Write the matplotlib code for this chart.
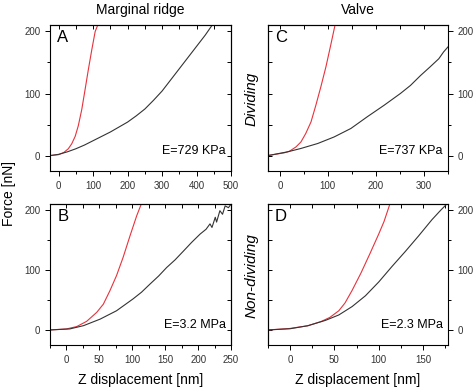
import matplotlib.pyplot as plt
from matplotlib.ticker import MultipleLocator

plt.rcParams['font.family'] = ['Liberation Sans', 'DejaVu Sans']

# panel A - marginal ridge, dividing
a_black_x = [-25, 0, 25, 50, 75, 100, 125, 150, 175, 200, 225, 250, 275, 300, 325, 350, 375, 400, 425, 445]
a_black_y = [0, 2, 6, 11, 17, 24, 31, 38, 46, 54, 64, 75, 89, 104, 122, 140, 158, 176, 194, 210]
a_red_x = [-25, 0, 15, 28, 38, 48, 57, 67, 76, 86, 96, 106, 117]
a_red_y = [0, 1.5, 5, 11, 19, 31, 48, 74, 104, 138, 170, 200, 215]

# panel B - marginal ridge, non-dividing
b_black_x = [-25, 5, 26, 51, 76, 101, 114, 127, 140, 152, 165, 178, 190, 203, 212, 218, 221, 226, 228, 233, 237, 241, 246, 250]
b_black_y = [0, 1.7, 7.2, 18, 32, 51.7, 63, 76.7, 90, 104, 117, 132, 146, 160, 168, 177, 171, 188, 180, 199, 193, 207, 204, 210]
b_red_x = [-25, 0, 15.5, 30.7, 46, 56, 66, 76, 86, 96.5, 106.7, 115]
b_red_y = [0, 1.7, 5.6, 14.4, 29.4, 43, 65.5, 90.6, 121, 157, 190.6, 214]

# panel C - valve, dividing
c_black_x = [-25, 16, 44, 79, 113, 148, 182, 217, 251, 272, 293, 313, 331, 341, 350]
c_black_y = [0, 6, 11.5, 19.5, 30, 43.7, 62.5, 81, 100, 113, 129, 143, 156, 167, 175]
c_red_x = [-25, 9.5, 20, 33.7, 44, 54, 65, 75, 85.5, 96, 106, 116]
c_red_y = [0, 4.5, 7, 14, 22, 35.6, 54.4, 81, 111, 143, 178, 214]

# panel D - valve, non-dividing
d_black_x = [-25, 0, 20, 40, 55, 70, 85, 100, 115, 130, 145, 160, 170, 178]
d_black_y = [0, 2, 7, 16, 25, 39, 57, 80, 106, 131, 157, 184, 200, 212]
d_red_x = [-25, 0, 20, 35, 45, 55, 62, 70, 80, 90, 100, 106, 113]
d_red_y = [0, 2.5, 7, 14, 21, 32, 45, 66, 95, 127, 160, 181, 212]

panels = [
    ("A", a_black_x, a_black_y, a_red_x, a_red_y, (-25, 500), 100, "E=729 KPa"),
    ("B", b_black_x, b_black_y, b_red_x, b_red_y, (-25, 250), 50, "E=3.2 MPa"),
    ("C", c_black_x, c_black_y, c_red_x, c_red_y, (-25, 350), 100, "E=737 KPa"),
    ("D", d_black_x, d_black_y, d_red_x, d_red_y, (-25, 178), 50, "E=2.3 MPa"),
]
positions = {
    "A": [0.1055, 0.559, 0.382, 0.376],
    "B": [0.1055, 0.111, 0.382, 0.363],
    "C": [0.565, 0.559, 0.380, 0.376],
    "D": [0.565, 0.111, 0.380, 0.363],
}

fig = plt.figure(figsize=(4.74, 3.88), dpi=100)
for label, bx, by, rx, ry, xlim, xstep, etext in panels:
    ax = fig.add_axes(positions[label])
    ax.plot(rx, ry, color="#e8323c", lw=0.8)
    ax.plot(bx, by, color="#333333", lw=0.8)
    ax.set_xlim(*xlim)
    ax.set_ylim(-25, 210)
    ax.xaxis.set_major_locator(MultipleLocator(xstep))
    ax.xaxis.set_minor_locator(MultipleLocator(xstep / 2))
    ax.yaxis.set_major_locator(MultipleLocator(100))
    ax.yaxis.set_minor_locator(MultipleLocator(50))
    right = label in ("C", "D")
    ax.tick_params(which="both", direction="out", labelsize=7, labelcolor="#333333",
                   left=not right, right=right, labelleft=not right, labelright=right,
                   top=False, width=0.7)
    ax.tick_params(which="major", length=3.5)
    ax.tick_params(which="minor", length=2.5)
    # inward ticks on the other sides
    sec_y = ax.secondary_yaxis("left" if right else "right")
    sec_y.yaxis.set_major_locator(MultipleLocator(50))
    sec_y.tick_params(direction="in", length=3, width=0.7, labelleft=False, labelright=False)
    sec_x = ax.secondary_xaxis("top")
    sec_x.xaxis.set_major_locator(MultipleLocator(xstep / 2))
    sec_x.tick_params(direction="in", length=3, width=0.7, labeltop=False)
    for s in ax.spines.values():
        s.set_linewidth(0.8)
    ax.text(0.04, 0.965, label, transform=ax.transAxes, fontsize=12, va="top", ha="left")
    ax.text(0.97, 0.1, etext, transform=ax.transAxes, fontsize=9, va="bottom", ha="right")
    if label in ("B", "D"):
        ax.set_xlabel("Z displacement [nm]", fontsize=10, labelpad=6)

fig.text(0.296, 0.974, "Marginal ridge", fontsize=10, ha="center", va="center")
fig.text(0.755, 0.974, "Valve", fontsize=10, ha="center", va="center")
fig.text(0.018, 0.50, "Force [nN]", fontsize=10, rotation=90, ha="center", va="center")
fig.text(0.53, 0.745, "Dividing", fontsize=11, style="italic", rotation=90, ha="center", va="center")
fig.text(0.53, 0.29, "Non-dividing", fontsize=11, style="italic", rotation=90, ha="center", va="center")

fig.savefig("out.png", dpi=100)
